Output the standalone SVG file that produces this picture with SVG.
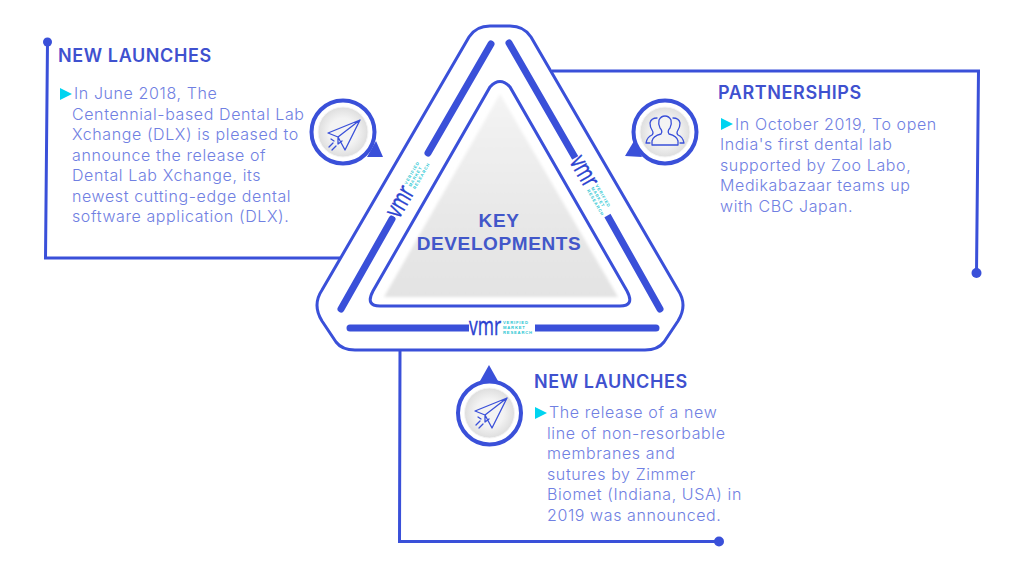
<svg xmlns="http://www.w3.org/2000/svg" width="1024" height="576" viewBox="0 0 1024 576">
<style>
.line{fill:none;stroke:#3a50d9;stroke-width:3}
.bar{fill:none;stroke:#3a50d9;stroke-width:7;stroke-linecap:round}
.ring{fill:#fff;stroke:#3a50d9;stroke-width:4}
.disc{fill:url(#disc);stroke:#f4f4f4;stroke-width:1}
.tail{fill:#3a50d9}
.ico{fill:none;stroke:#3a50d9;stroke-width:1.3;stroke-linejoin:round;stroke-linecap:round}
.h{font-family:"Inter","Liberation Sans",sans-serif;font-weight:600;font-size:18px;fill:#3f51cf;letter-spacing:.6px}
.b{font-family:"Inter","Liberation Sans",sans-serif;font-weight:300;font-size:16px;fill:#7080e2;letter-spacing:.6px}
.k{font-family:"Liberation Sans",sans-serif;font-weight:700;font-size:19px;fill:#4257c9;text-anchor:middle;letter-spacing:.6px}
.v{font-family:"Open Sans","Liberation Sans",sans-serif;font-weight:400;font-size:17.500px;fill:#2a42d0;stroke:#2a42d0;stroke-width:.3}
.s{font-family:"Liberation Sans",sans-serif;font-weight:700;font-size:4.2px;fill:#25c6d2;letter-spacing:.8px}
.gap{fill:#fff}
.mark{fill:#00d4f0}
</style>
<defs>
<radialGradient id="disc" cx=".5" cy=".5" r=".5"><stop offset=".55" stop-color="#f3f3f3"/><stop offset="1" stop-color="#dedede"/></radialGradient>
<linearGradient id="tri" x1="0" y1="0" x2="0" y2="1"><stop offset="0" stop-color="#f4f4f4"/><stop offset=".6" stop-color="#e8e8e8"/><stop offset="1" stop-color="#e3e3e3"/></linearGradient>
<filter id="soft" x="-10%" y="-10%" width="120%" height="120%"><feGaussianBlur stdDeviation="1.5"/></filter>
</defs>

<g id="connectors">
<path class="line" d="M47.500 42L45.500 258H342"/>
<circle cx="47.500" cy="42" r="4.500" fill="#3a50d9"/>
<path class="line" d="M552 71H978.500L976.500 273"/>
<circle cx="976.500" cy="273" r="5" fill="#3a50d9"/>
<path class="line" d="M400 350L399.500 541.500H719"/>
<circle cx="719" cy="541.500" r="5" fill="#3a50d9"/>
</g>

<g id="triangle">
<path fill="#fff" stroke="#3a50d9" stroke-width="3" stroke-linejoin="round" d="M469 37Q476 26 490 26H510Q524 26 531 37L678 290Q688 305 678 321L664 342Q658 350 645 350H355Q342 350 336 342L322 321Q312 305 322 290Z"/>
<path fill="#fff" stroke="#3a50d9" stroke-width="3" d="M490 87Q500 76 510 87L627 291Q635 306 620 306H380Q365 306 373 291Z"/>
<path fill="url(#tri)" filter="url(#soft)" d="M500 94L618 297H384Z"/>
<path class="bar" d="M491 44L428 153M392 219L341 309M509 43L577 161M606 213L660 309M350 328H470M532 328H656"/>
</g>

<g id="center-label">
<text class="k" x="499" y="227">KEY</text>
<text class="k" x="499" y="250">DEVELOPMENTS</text>
</g>

<g id="logo-bottom" transform="translate(469 328)">
<rect class="gap" x="0" y="-6" width="66" height="12"/>
<text class="v" x="0" y="4.670" transform="scale(1 1.5)">vmr</text>
<text class="s" x="34" y="-3.800">VERIFIED</text><text class="s" x="34" y="1.100">MARKET</text><text class="s" x="34" y="6">RESEARCH</text>
</g>
<g id="logo-left" transform="translate(393 216) rotate(-60)">
<rect class="gap" x="0" y="-6" width="66" height="12"/>
<text class="v" x="0" y="4.670" transform="scale(1 1.5)">vmr</text>
<text class="s" x="34" y="-3.800">VERIFIED</text><text class="s" x="34" y="1.100">MARKET</text><text class="s" x="34" y="6">RESEARCH</text>
</g>
<g id="logo-right" transform="translate(575 158) rotate(60)">
<rect class="gap" x="0" y="-6" width="66" height="12"/>
<text class="v" x="0" y="4.670" transform="scale(1 1.5)">vmr</text>
<text class="s" x="34" y="-3.800">VERIFIED</text><text class="s" x="34" y="1.100">MARKET</text><text class="s" x="34" y="6">RESEARCH</text>
</g>

<g id="icon-left">
<path class="tail" d="M367 157L376 141L383 157Z"/>
<circle class="ring" cx="343" cy="132" r="31.500"/>
<circle class="disc" cx="343" cy="132" r="25"/>
<path class="ico" d="M360 120L328 133L338 137ZM360 120L338 137L345 150ZM338 137L338 144L342 141M333 143L329 147M336 146L332 150M331 139L334 141"/>
</g>
<g id="icon-right">
<path class="tail" d="M625 156L634 141L642 157Z"/>
<circle class="ring" cx="665" cy="132" r="31.500"/>
<circle class="disc" cx="665" cy="132" r="25"/>
<path class="ico" d="M652 145H678V141Q677 136 669 134Q667 131 670 128Q672 124 671 120Q669 116 665 116Q661 116 659 120Q658 124 660 128Q663 131 661 134Q653 136 652 141ZM657 118Q651 118 650 123Q650 127 652 130Q654 133 652 135Q647 137 646 143H650M673 118Q679 118 680 123Q680 127 678 130Q676 133 678 135Q683 137 684 143H680"/>
</g>
<g id="icon-bottom">
<path class="tail" d="M480 381L489 365L498 381Z"/>
<circle class="ring" cx="489.500" cy="413" r="31.500"/>
<circle class="disc" cx="489.500" cy="413" r="25"/>
<path class="ico" d="M507 398L475 411L485 415ZM507 398L485 415L492 428ZM485 415L485 422L489 419M480 421L476 425M483 424L479 428M478 417L481 419"/>
</g>

<g id="text-left">
<text class="h" x="58" y="62">NEW LAUNCHES</text>
<path class="mark" d="M60 88L72 94L60 100Z"/>
<text class="b" x="74" y="99">In June 2018, The</text>
<text class="b" x="72" y="120">Centennial-based Dental Lab</text>
<text class="b" x="72" y="140">Xchange (DLX) is pleased to</text>
<text class="b" x="72" y="161">announce the release of</text>
<text class="b" x="72" y="181">Dental Lab Xchange, its</text>
<text class="b" x="72" y="202">newest cutting-edge dental</text>
<text class="b" x="72" y="222">software application (DLX).</text>
</g>
<g id="text-right">
<text class="h" x="718" y="99">PARTNERSHIPS</text>
<path class="mark" d="M721 118L733 124L721 130Z"/>
<text class="b" x="735" y="130">In October 2019, To open</text>
<text class="b" x="720" y="150">India's first dental lab</text>
<text class="b" x="720" y="171">supported by Zoo Labo,</text>
<text class="b" x="720" y="191">Medikabazaar teams up</text>
<text class="b" x="720" y="212">with CBC Japan.</text>
</g>
<g id="text-bottom">
<text class="h" x="534" y="388">NEW LAUNCHES</text>
<path class="mark" d="M535 407L547 413L535 419Z"/>
<text class="b" x="549" y="418">The release of a new</text>
<text class="b" x="547" y="439">line of non-resorbable</text>
<text class="b" x="547" y="459">membranes and</text>
<text class="b" x="547" y="480">sutures by Zimmer</text>
<text class="b" x="547" y="500">Biomet (Indiana, USA) in</text>
<text class="b" x="547" y="521">2019 was announced.</text>
</g>
</svg>
